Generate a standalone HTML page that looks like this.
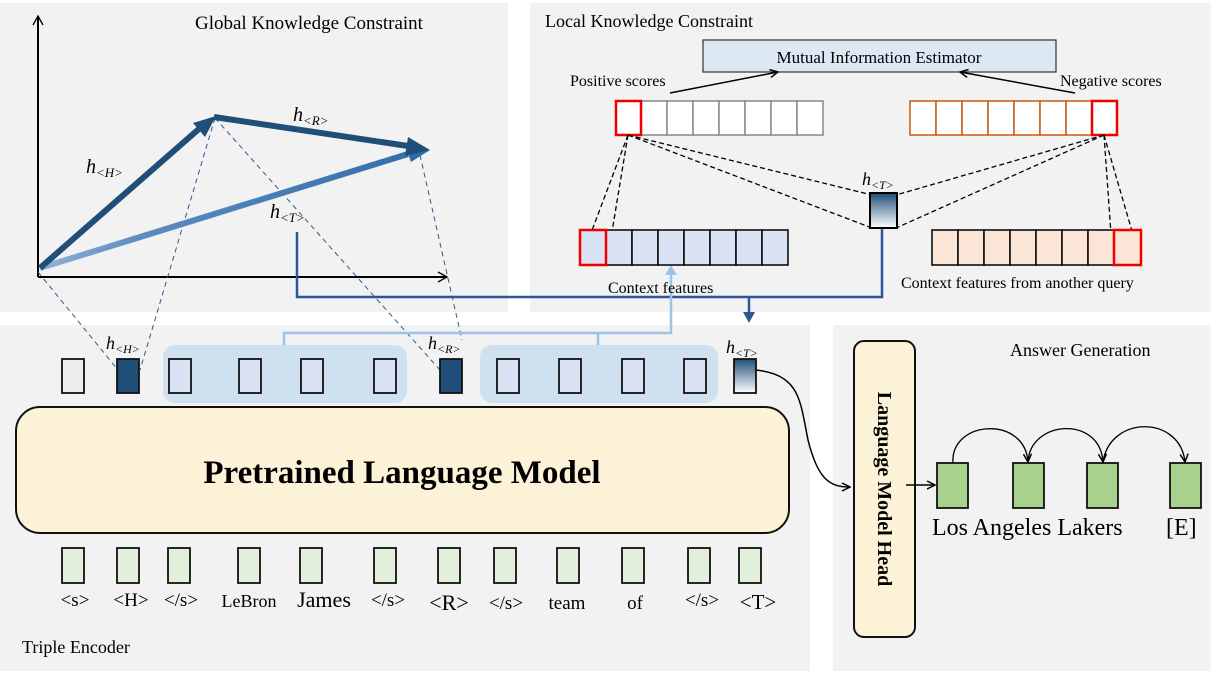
<!DOCTYPE html>
<html><head><meta charset="utf-8"><style>
body{margin:0;background:#fff}
svg{display:block;font-family:"Liberation Serif",serif}
</style></head><body>
<svg width="1213" height="676" viewBox="0 0 1213 676" xmlns="http://www.w3.org/2000/svg">
<defs>
<linearGradient id="gT" x1="0" y1="0" x2="1" y2="0.3"><stop offset="0" stop-color="#e8eef6"/><stop offset="0.45" stop-color="#5b8cc0"/><stop offset="1" stop-color="#2e6aa6"/></linearGradient>
<linearGradient id="gBox" x1="0" y1="0" x2="0" y2="1"><stop offset="0" stop-color="#1f4e79"/><stop offset="1" stop-color="#ffffff"/></linearGradient>
<marker id="ah" markerWidth="10" markerHeight="10" refX="9" refY="5" orient="auto" markerUnits="userSpaceOnUse"><path d="M1,1 L9,5 L1,9" fill="none" stroke="#000" stroke-width="1.5"/></marker>
<marker id="ahs" markerWidth="12" markerHeight="12" refX="10" refY="6" orient="auto" markerUnits="userSpaceOnUse"><path d="M1,1 L10,6 L1,11" fill="none" stroke="#000" stroke-width="1.3"/></marker>
</defs>
<!-- panels -->
<rect x="0" y="3" width="508" height="309" fill="#f2f2f2"/>
<rect x="530" y="3" width="681" height="309" fill="#f2f2f2"/>
<rect x="0" y="325" width="810" height="346" fill="#f2f2f2"/>
<rect x="833" y="325" width="378" height="346" fill="#f2f2f2"/>

<!-- Global -->
<text x="195" y="29" font-size="19">Global Knowledge Constraint</text>
<line x1="38" y1="277" x2="38" y2="16" stroke="#000" stroke-width="2" marker-end="url(#ahs)"/>
<line x1="38" y1="277" x2="447" y2="277" stroke="#000" stroke-width="2" marker-end="url(#ahs)"/>
<g stroke="#2e5a8a" stroke-width="1" stroke-dasharray="5,4" fill="none">
<line x1="38" y1="272" x2="118" y2="370"/>
<line x1="215" y1="118" x2="140" y2="370"/>
<line x1="215" y1="118" x2="440" y2="370"/>
<line x1="420" y1="155" x2="462" y2="340"/>
</g>
<line x1="40" y1="268" x2="408" y2="154" stroke="url(#gT)" stroke-width="6"/>
<polygon points="430,150 405,145 411,162" fill="#2e6aa6"/>
<line x1="40" y1="268" x2="200" y2="128" stroke="#1f4e79" stroke-width="6"/>
<polygon points="216,116 193,123 205,137" fill="#1f4e79"/>
<line x1="214" y1="117" x2="408" y2="146" stroke="#1f4e79" stroke-width="6"/>
<polygon points="430,150 408,137 405,156" fill="#1f4e79"/>
<text x="86" y="173" font-size="20" font-style="italic">h<tspan font-size="13" dy="4">&lt;H&gt;</tspan></text>
<text x="293" y="121" font-size="20" font-style="italic">h<tspan font-size="13" dy="4">&lt;R&gt;</tspan></text>
<text x="270" y="218" font-size="20" font-style="italic">h<tspan font-size="13" dy="4">&lt;T&gt;</tspan></text>
<!-- blue connectors -->
<polyline points="297,232 297,297 882,297 882,228" fill="none" stroke="#2f5597" stroke-width="2.5"/>
<line x1="749" y1="297" x2="749" y2="314" stroke="#2f5597" stroke-width="2.5"/>
<polygon points="743,312 755,312 749,323" fill="#2f5597"/>
<polyline points="284,345 284,333 671,333 671,272" fill="none" stroke="#9dc3e6" stroke-width="2.5"/>
<line x1="598" y1="333" x2="598" y2="345" stroke="#9dc3e6" stroke-width="2.5"/>
<polygon points="665,275 677,275 671,265" fill="#9dc3e6"/>

<!-- Local -->
<text x="545" y="27" font-size="18">Local Knowledge Constraint</text>
<rect x="703" y="40" width="353" height="32" fill="#dce9f5" stroke="#333" stroke-width="1.2"/>
<text x="879" y="63" font-size="17" text-anchor="middle">Mutual Information Estimator</text>
<text x="570" y="86" font-size="16">Positive scores</text>
<text x="1060" y="86" font-size="16">Negative scores</text>
<line x1="670" y1="93" x2="778" y2="72" stroke="#000" stroke-width="1.5" marker-end="url(#ah)"/>
<line x1="1075" y1="93" x2="960" y2="72" stroke="#000" stroke-width="1.5" marker-end="url(#ah)"/>
<g fill="#fff" stroke="#888" stroke-width="1.5">
<rect x="641" y="101" width="26" height="34"/><rect x="667" y="101" width="26" height="34"/><rect x="693" y="101" width="26" height="34"/><rect x="719" y="101" width="26" height="34"/><rect x="745" y="101" width="26" height="34"/><rect x="771" y="101" width="26" height="34"/><rect x="797" y="101" width="26" height="34"/>
</g>
<rect x="616" y="101" width="25" height="34" fill="#fff" stroke="#e00" stroke-width="2.5"/>
<g fill="#fff" stroke="#c55a11" stroke-width="1.5">
<rect x="910" y="101" width="26" height="34"/><rect x="936" y="101" width="26" height="34"/><rect x="962" y="101" width="26" height="34"/><rect x="988" y="101" width="26" height="34"/><rect x="1014" y="101" width="26" height="34"/><rect x="1040" y="101" width="26" height="34"/><rect x="1066" y="101" width="26" height="34"/>
</g>
<rect x="1092" y="101" width="25" height="34" fill="#fff" stroke="#e00" stroke-width="2.5"/>
<g stroke="#000" stroke-width="1.3" stroke-dasharray="5,3" fill="none">
<line x1="628" y1="135" x2="580" y2="262"/><line x1="628" y1="135" x2="607" y2="262"/>
<line x1="628" y1="135" x2="872" y2="195"/><line x1="628" y1="135" x2="872" y2="228"/>
<line x1="1104" y1="135" x2="896" y2="195"/><line x1="1104" y1="135" x2="896" y2="228"/>
<line x1="1104" y1="135" x2="1113" y2="262"/><line x1="1104" y1="135" x2="1141" y2="262"/>
</g>
<rect x="870" y="193" width="27" height="35" fill="url(#gBox)" stroke="#000" stroke-width="2"/>
<text x="862" y="185" font-size="18" font-style="italic">h<tspan font-size="12" dy="4">&lt;T&gt;</tspan></text>
<g fill="#dae3f3" stroke="#000" stroke-width="1.5">
<rect x="606" y="230" width="26" height="35"/><rect x="632" y="230" width="26" height="35"/><rect x="658" y="230" width="26" height="35"/><rect x="684" y="230" width="26" height="35"/><rect x="710" y="230" width="26" height="35"/><rect x="736" y="230" width="26" height="35"/><rect x="762" y="230" width="26" height="35"/>
</g>
<rect x="580" y="230" width="26" height="35" fill="#dae3f3" stroke="#e00" stroke-width="2.5"/>
<text x="608" y="293" font-size="16">Context features</text>
<g fill="#fbe5d6" stroke="#000" stroke-width="1.5">
<rect x="932" y="230" width="26" height="35"/><rect x="958" y="230" width="26" height="35"/><rect x="984" y="230" width="26" height="35"/><rect x="1010" y="230" width="26" height="35"/><rect x="1036" y="230" width="26" height="35"/><rect x="1062" y="230" width="26" height="35"/><rect x="1088" y="230" width="26" height="35"/>
</g>
<rect x="1114" y="230" width="27" height="35" fill="#fbe5d6" stroke="#e00" stroke-width="2.5"/>
<text x="901" y="288" font-size="16">Context features from another query</text>

<!-- Triple encoder -->
<rect x="163" y="345" width="244" height="58" rx="12" fill="#cfe0f1"/>
<rect x="480" y="345" width="238" height="58" rx="12" fill="#cfe0f1"/>
<g stroke="#111" stroke-width="1.8">
<rect x="62" y="359" width="22" height="34" fill="#eeeeee"/>
<rect x="117" y="359" width="22" height="34" fill="#1f4e79"/>
<rect x="169" y="359" width="22" height="34" fill="#dae3f3"/>
<rect x="239" y="359" width="22" height="34" fill="#dae3f3"/>
<rect x="301" y="359" width="22" height="34" fill="#dae3f3"/>
<rect x="374" y="359" width="22" height="34" fill="#dae3f3"/>
<rect x="440" y="359" width="22" height="34" fill="#1f4e79"/>
<rect x="497" y="359" width="22" height="34" fill="#dae3f3"/>
<rect x="559" y="359" width="22" height="34" fill="#dae3f3"/>
<rect x="622" y="359" width="22" height="34" fill="#dae3f3"/>
<rect x="684" y="359" width="22" height="34" fill="#dae3f3"/>
<rect x="734" y="359" width="22" height="34" fill="url(#gBox)"/>
</g>
<text x="106" y="349" font-size="18" font-style="italic">h<tspan font-size="12" dy="4">&lt;H&gt;</tspan></text>
<text x="428" y="349" font-size="18" font-style="italic">h<tspan font-size="12" dy="4">&lt;R&gt;</tspan></text>
<text x="726" y="353" font-size="18" font-style="italic">h<tspan font-size="12" dy="4">&lt;T&gt;</tspan></text>
<rect x="16" y="407" width="773" height="126" rx="24" fill="#fcf2d7" stroke="#111" stroke-width="2"/>
<text x="402" y="483" font-size="33" font-weight="bold" text-anchor="middle">Pretrained Language Model</text>
<g stroke="#111" stroke-width="1.8" fill="#e2efda">
<rect x="62" y="548" width="22" height="35"/><rect x="117" y="548" width="22" height="35"/><rect x="168" y="548" width="22" height="35"/><rect x="238" y="548" width="22" height="35"/><rect x="300" y="548" width="22" height="35"/><rect x="374" y="548" width="22" height="35"/><rect x="438" y="548" width="22" height="35"/><rect x="494" y="548" width="22" height="35"/><rect x="557" y="548" width="22" height="35"/><rect x="622" y="548" width="22" height="35"/><rect x="688" y="548" width="22" height="35"/><rect x="739" y="548" width="22" height="35"/>
</g>
<g font-size="19" text-anchor="middle">
<text x="75" y="606">&lt;s&gt;</text><text x="131" y="606">&lt;H&gt;</text><text x="181" y="606">&lt;/s&gt;</text><text x="249" y="607" font-size="18">LeBron</text><text x="324" y="607" font-size="22">James</text><text x="388" y="606">&lt;/s&gt;</text><text x="449" y="610" font-size="22">&lt;R&gt;</text><text x="506" y="609">&lt;/s&gt;</text><text x="567" y="609">team</text><text x="635" y="609">of</text><text x="702" y="606">&lt;/s&gt;</text><text x="758" y="609" font-size="21">&lt;T&gt;</text>
</g>
<text x="22" y="653" font-size="18">Triple Encoder</text>

<!-- curve -->
<path d="M756,370 C800,375 800,400 808,440 C818,480 830,487 850,487" fill="none" stroke="#000" stroke-width="1.5" marker-end="url(#ah)"/>

<!-- Answer -->
<text x="1010" y="356" font-size="18">Answer Generation</text>
<rect x="854" y="341" width="61" height="296" rx="10" fill="#fcf2d7" stroke="#111" stroke-width="2"/>
<text transform="translate(878,489) rotate(90)" font-size="20" font-weight="bold" text-anchor="middle">Language Model Head</text>
<line x1="906" y1="485" x2="935" y2="485" stroke="#000" stroke-width="1.5" marker-end="url(#ah)"/>
<g fill="#a9d18e" stroke="#111" stroke-width="1.8">
<rect x="937" y="463" width="31" height="45"/><rect x="1013" y="463" width="31" height="45"/><rect x="1087" y="463" width="31" height="45"/><rect x="1170" y="463" width="31" height="45"/>
</g>
<g fill="none" stroke="#000" stroke-width="1.3">
<path d="M953,463 C950,420 1025,415 1028,462" marker-end="url(#ah)"/>
<path d="M1028,462 C1030,420 1100,415 1103,462" marker-end="url(#ah)"/>
<path d="M1103,462 C1110,415 1180,415 1185,462" marker-end="url(#ah)"/>
</g>
<text x="932" y="535" font-size="24">Los Angeles Lakers</text>
<text x="1166" y="535" font-size="24">[E]</text>
</svg>
</body></html>
